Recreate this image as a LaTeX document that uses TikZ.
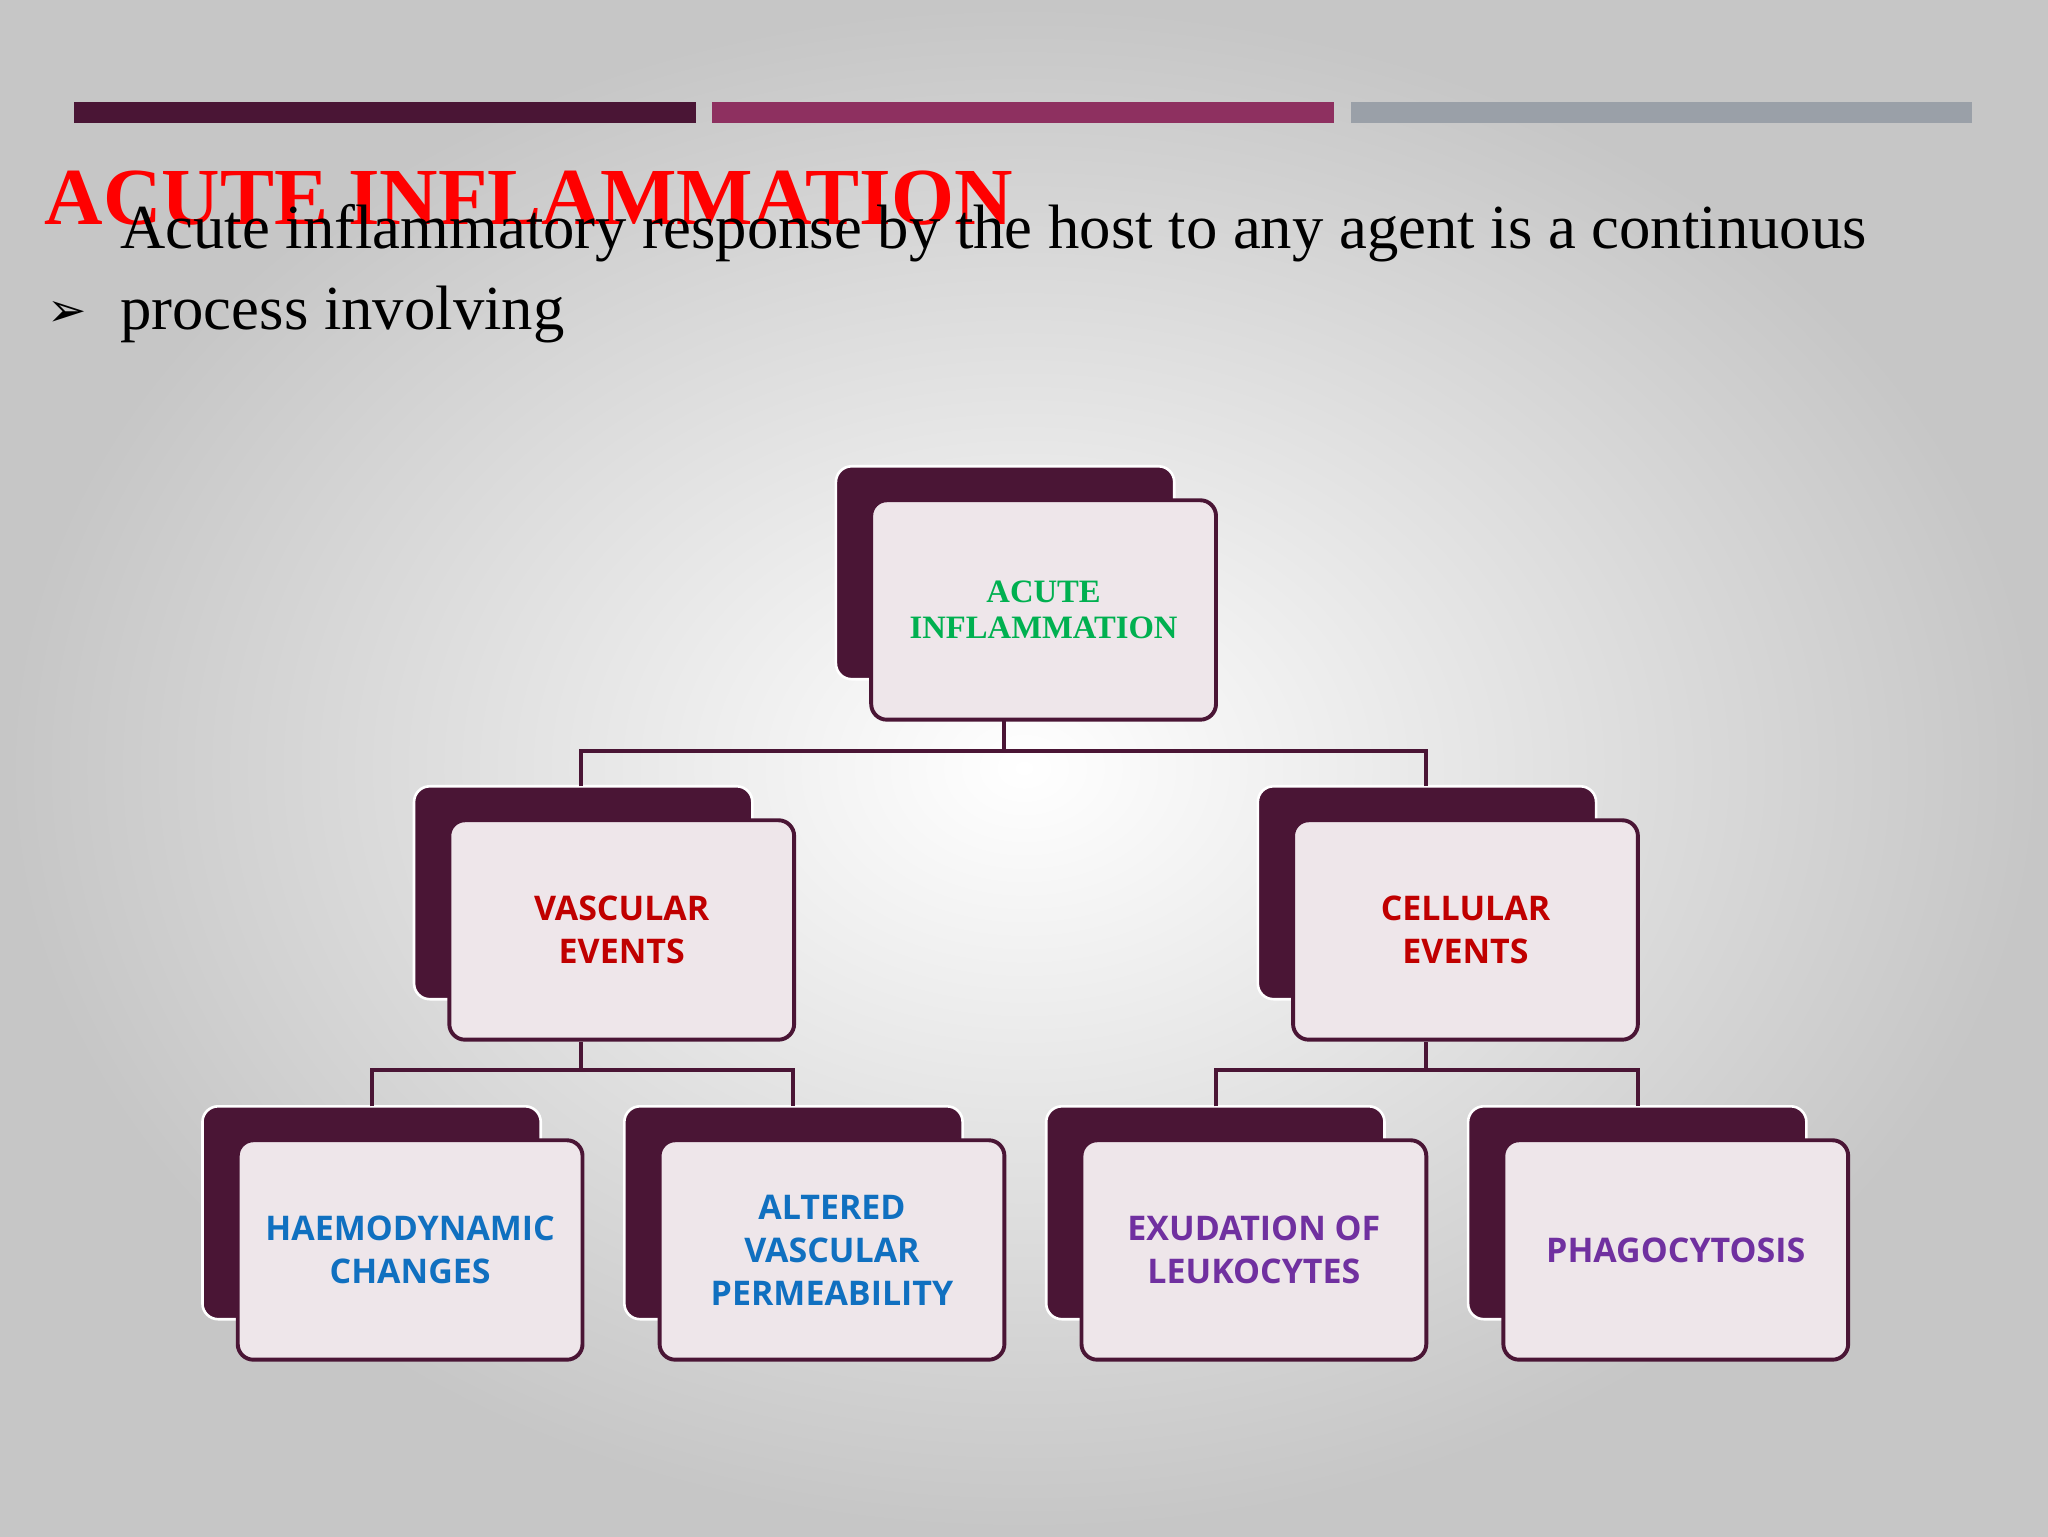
\documentclass[tikz,border=0pt]{standalone}
\usepackage{fontspec}
\setmainfont{Liberation Serif}
\newfontfamily\boxfont{Open Sans}
\newfontfamily\symfont{DejaVu Sans}
\definecolor{plum}{HTML}{4A1535}
\definecolor{mag}{HTML}{8E3060}
\definecolor{gbar}{HTML}{9AA0A8}
\definecolor{tred}{HTML}{C00000}
\definecolor{tblue}{HTML}{1070C0}
\definecolor{tpurple}{HTML}{7030A0}
\definecolor{tgreen}{HTML}{00B050}
\definecolor{boxfill}{HTML}{EEE6EA}
\begin{document}
\begin{tikzpicture}[x=1pt,y=-1pt,
  boxback/.style={fill=plum,draw=white,line width=2pt,rounded corners=12pt},
  boxfront/.style={fill=boxfill,draw=plum,line width=3pt,rounded corners=12pt},
  lbl/.style={font=\boxfont\bfseries\fontsize{26}{33}\selectfont,align=center},
  conn/.style={draw=plum,line width=3pt}]
\useasboundingbox (0,0) rectangle (1568,1176);
\shade[inner color=white,outer color=gray!45] (0,0) rectangle (1568,1176);
\fill[plum] (57,78) rectangle (533,94);
\fill[mag] (545,78) rectangle (1021,94);
\fill[gbar] (1034,78) rectangle (1510,94);
\node[anchor=base west,text=red,font=\bfseries\fontsize{62}{70}\selectfont,inner sep=0] (title) at (34,172) {ACUTE INFLAMMATION};
\node[anchor=base west,font=\symfont\fontsize{36}{40}\selectfont,inner sep=0] (bul) at (36,250) {➢};
\node[anchor=base west,font=\fontsize{48}{62}\selectfont,inner sep=0,align=left] (txt) at (92,252) {Acute inflammatory response by the host to any agent is a continuous\\process involving};
% top
\draw[boxback] (640,357) rectangle (899,520);
\draw[boxfront] (667,383) rectangle (931,551);
\node[lbl,text=tgreen,font=\bfseries\fontsize{25}{28}\selectfont] (top) at (799,467) {ACUTE\\INFLAMMATION};
% vascular
\draw[boxback] (317,602) rectangle (576,765);
\draw[boxfront] (344,628) rectangle (608,796);
\node[lbl,text=tred] (vas) at (476,712) {VASCULAR\\EVENTS};
% cellular
\draw[boxback] (963,602) rectangle (1222,765);
\draw[boxfront] (990,628) rectangle (1254,796);
\node[lbl,text=tred] (cel) at (1122,712) {CELLULAR\\EVENTS};
% bottom
\draw[boxback] (155,847) rectangle (414,1010);
\draw[boxfront] (182,873) rectangle (446,1041);
\node[lbl,text=tblue] (hae) at (314,957) {HAEMODYNAMIC\\CHANGES};
\draw[boxback] (478,847) rectangle (737,1010);
\draw[boxfront] (505,873) rectangle (769,1041);
\node[lbl,text=tblue] (alt) at (637,957) {ALTERED\\VASCULAR\\PERMEABILITY};
\draw[boxback] (801,847) rectangle (1060,1010);
\draw[boxfront] (828,873) rectangle (1092,1041);
\node[lbl,text=tpurple] (exu) at (960,957) {EXUDATION OF\\LEUKOCYTES};
\draw[boxback] (1124,847) rectangle (1383,1010);
\draw[boxfront] (1151,873) rectangle (1415,1041);
\node[lbl,text=tpurple] (pha) at (1283,957) {PHAGOCYTOSIS};
% connectors
\coordinate (t1) at (769,552); \coordinate (t2) at (769,575);
\coordinate (l1) at (445,575); \coordinate (l2) at (445,602);
\coordinate (r1) at (1092,575); \coordinate (r2) at (1092,602);
\draw[conn] (t1) -- (t2) (l2) -- (l1) -- (r1) -- (r2);
\coordinate (v1) at (445,798); \coordinate (v2) at (445,819);
\coordinate (va) at (285,819); \coordinate (vb) at (607,819);
\coordinate (va2) at (285,847); \coordinate (vb2) at (607,847);
\draw[conn] (v1) -- (v2) (va2) -- (va) -- (vb) -- (vb2);
\coordinate (c1) at (1092,798); \coordinate (c2) at (1092,819);
\coordinate (ca) at (931,819); \coordinate (cb) at (1254,819);
\coordinate (ca2) at (931,847); \coordinate (cb2) at (1254,847);
\draw[conn] (c1) -- (c2) (ca2) -- (ca) -- (cb) -- (cb2);
\end{tikzpicture}
\end{document}
